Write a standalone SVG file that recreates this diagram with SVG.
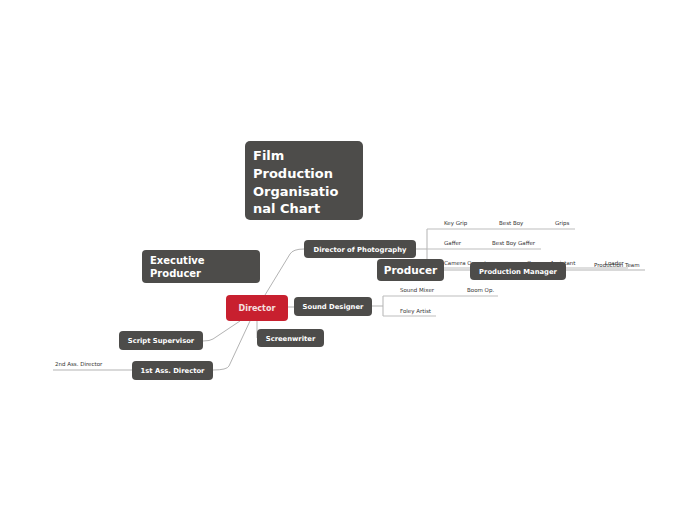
<svg xmlns="http://www.w3.org/2000/svg" width="697" height="520" viewBox="0 0 697 520">
<style>
.box{fill:#4d4c4a}
.t{font-family:"DejaVu Sans",Verdana,sans-serif;font-weight:bold;fill:#ffffff}
.s{font-family:"DejaVu Sans",Verdana,sans-serif;font-size:5.5px;fill:#333333}
.c{fill:none;stroke:#b3b3b3;stroke-width:1}
.b{fill:none;stroke:#bdbdbd;stroke-width:1}
</style>
<rect width="697" height="520" fill="#ffffff"/>
<g id="connectors">
<path class="c" d="M265 295 L290 254 Q293 249 304 249" stroke-width="1.5"/>
<path class="c" d="M288 307 L294 307"/>
<path class="c" d="M257 321 L257 338"/>
<path class="c" d="M240 321 L213 339 Q210 341 203 341"/>
<path class="c" d="M250 321 L229 366 Q227 370 213 370"/>
<path class="c" d="M132 370 L53 370"/>
<path class="c" d="M416 249 L427 249 M427 229 L427 270"/>
<path class="b" d="M427 229 L575 229 M427 249 L541 249 M427 268 L628 268"/>
<path class="c" d="M444 270 L470 270 M566 270 L645 270"/>
<path class="c" d="M372 306 L383 306 M383 296 L383 316"/>
<path class="b" d="M383 296 L498 296 M383 316 L436 316"/>
</g>
<g id="labels">
<text class="s" x="55" y="366">2nd Ass. Director</text>
<text class="s" x="444" y="225">Key Grip</text>
<text class="s" x="499" y="225">Best Boy</text>
<text class="s" x="555" y="225">Grips</text>
<text class="s" x="444" y="245">Gaffer</text>
<text class="s" x="492" y="245">Best Boy Gaffer</text>
<text class="s" x="444" y="265">Camera Operator</text>
<text class="s" x="527" y="265">Camera Assistant</text>
<text class="s" x="605" y="265">Loader</text>
<text class="s" x="594" y="267">Production Team</text>
<text class="s" x="400" y="292">Sound Mixer</text>
<text class="s" x="467" y="292">Boom Op.</text>
<text class="s" x="400" y="313">Foley Artist</text>
</g>
<g id="title">
<rect class="box" x="245" y="141" width="118" height="79" rx="5"/>
<text class="t" font-size="13" x="253" y="160">Film</text>
<text class="t" font-size="13" x="253" y="178">Production</text>
<text class="t" font-size="13" x="253" y="196">Organisatio</text>
<text class="t" font-size="13" x="253" y="213">nal Chart</text>
</g>
<g id="executive-producer">
<rect class="box" x="142" y="250" width="118" height="33" rx="4"/>
<text class="t" font-size="10" x="150" y="264">Executive</text>
<text class="t" font-size="10" x="150" y="277">Producer</text>
</g>
<g id="director-of-photography">
<rect class="box" x="304" y="240" width="112" height="18" rx="4"/>
<text class="t" font-size="6.8" x="360" y="251.5" text-anchor="middle">Director of Photography</text>
</g>
<g id="producer">
<rect class="box" x="377" y="259" width="67" height="22" rx="4"/>
<text class="t" font-size="10.5" x="410.5" y="274" text-anchor="middle">Producer</text>
</g>
<g id="production-manager">
<rect class="box" x="470" y="262" width="96" height="18" rx="4"/>
<text class="t" font-size="6.8" x="518" y="273.5" text-anchor="middle">Production Manager</text>
</g>
<g id="director">
<rect x="226" y="295" width="62" height="26" rx="4" fill="#c8202f"/>
<text class="t" font-size="8" x="257" y="311" text-anchor="middle" fill="#f6dede" style="fill:#f6e0e0">Director</text>
</g>
<g id="sound-designer">
<rect class="box" x="294" y="297" width="78" height="19" rx="4"/>
<text class="t" font-size="6.8" x="333" y="309" text-anchor="middle">Sound Designer</text>
</g>
<g id="screenwriter">
<rect class="box" x="257" y="329" width="67" height="18" rx="4"/>
<text class="t" font-size="6.8" x="290.5" y="340.5" text-anchor="middle">Screenwriter</text>
</g>
<g id="script-supervisor">
<rect class="box" x="119" y="331" width="84" height="19" rx="4"/>
<text class="t" font-size="6.8" x="161" y="343" text-anchor="middle">Script Supervisor</text>
</g>
<g id="first-ass-director">
<rect class="box" x="132" y="361" width="81" height="19" rx="4"/>
<text class="t" font-size="6.8" x="172.5" y="373" text-anchor="middle">1st Ass. Director</text>
</g>
</svg>
